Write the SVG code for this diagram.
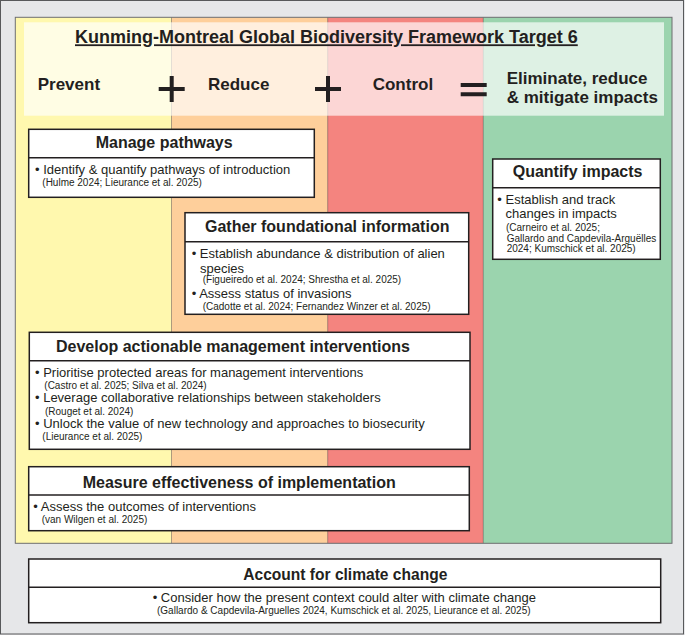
<svg xmlns="http://www.w3.org/2000/svg" width="685" height="635" viewBox="0 0 685 635">
<style>
text{font-family:"Liberation Sans",Arial,Helvetica,sans-serif;fill:#231f20}
.h{font-size:16px;font-weight:bold}
.lab{font-size:17px;font-weight:bold}
.b{font-size:13px}
.c{font-size:10px}
.box{fill:#fff;stroke:#231f20;stroke-width:1.5}
.div{stroke:#231f20;stroke-width:1.5}
.sep{stroke:#000;stroke-opacity:0.3;stroke-width:1}
.op{stroke:#231f20;stroke-width:4;fill:none}
</style>
<rect x="0" y="0" width="685" height="635" fill="#e6e7e9"/>
<rect x="0.5" y="0.5" width="683" height="633.5" fill="none" stroke="#58595b" stroke-width="1"/>
<g id="columns">
<rect x="15.3" y="17.3" width="156.2" height="526" fill="#fff8ae"/>
<rect x="171.5" y="17.3" width="156.2" height="526" fill="#fecf9b"/>
<rect x="327.7" y="17.3" width="155.6" height="526" fill="#f4847f"/>
<rect x="483.3" y="17.3" width="188.7" height="526" fill="#9bd4ae"/>
<line class="sep" x1="171.5" y1="17.3" x2="171.5" y2="543.3"/>
<line class="sep" x1="327.7" y1="17.3" x2="327.7" y2="543.3"/>
<line class="sep" x1="483.3" y1="17.3" x2="483.3" y2="543.3"/>
<rect x="15.3" y="17.3" width="656.7" height="526" fill="none" stroke="#6d6e71" stroke-width="1"/>
<rect x="24" y="22.3" width="640" height="93.4" fill="#fff" fill-opacity="0.67"/>
</g>
<g id="header">
<text x="75" y="43.3" font-size="18" font-weight="bold" text-decoration="underline">Kunming-Montreal Global Biodiversity Framework Target 6</text>
<text class="lab" x="37.7" y="90">Prevent</text>
<text class="lab" x="208" y="90">Reduce</text>
<text class="lab" x="372.7" y="90">Control</text>
<text class="lab" x="506.7" y="84.3">Eliminate, reduce</text>
<text class="lab" x="506.7" y="103.3">&amp; mitigate impacts</text>
<path class="op" d="M158.7 89H184.7M171.7 76V102"/>
<path class="op" d="M315 89H341M328 76V102"/>
<path class="op" d="M460.7 85H486.7M460.7 94.3H486.7" stroke-width="4.5"/>
</g>
<g id="manage-pathways">
<rect class="box" x="28.7" y="129.3" width="285.6" height="68"/>
<line class="div" x1="28.7" y1="157.7" x2="314.3" y2="157.7"/>
<text class="h" x="95.7" y="148.3">Manage pathways</text>
<text class="b" x="35" y="174.3">• Identify &amp; quantify pathways of introduction</text>
<text class="c" x="42.3" y="186">(Hulme 2024; Lieurance et al. 2025)</text>
</g>
<g id="gather-foundational-information">
<rect class="box" x="185" y="212.7" width="283.7" height="101.6"/>
<line class="div" x1="185" y1="241.7" x2="468.7" y2="241.7"/>
<text class="h" x="205" y="231.7">Gather foundational information</text>
<text class="b" x="191.7" y="258.3">• Establish abundance &amp; distribution of alien</text>
<text class="b" x="200" y="272.7">species</text>
<text class="c" x="202.7" y="283.3">(Figueiredo et al. 2024; Shrestha et al. 2025)</text>
<text class="b" x="191.7" y="298.3">• Assess status of invasions</text>
<text class="c" x="202.7" y="310">(Cadotte et al. 2024; Fernandez Winzer et al. 2025)</text>
</g>
<g id="quantify-impacts">
<rect class="box" x="492.7" y="159" width="167.6" height="100.3"/>
<line class="div" x1="492.7" y1="187.7" x2="660.3" y2="187.7"/>
<text class="h" x="512.7" y="177.3">Quantify impacts</text>
<text class="b" x="497.3" y="204">• Establish and track</text>
<text class="b" x="505.5" y="217.7">changes in impacts</text>
<text class="c" x="506" y="230.7">(Carneiro et al. 2025;</text>
<text class="c" x="506.7" y="241.7">Gallardo and Capdevila-Arguëlles</text>
<text class="c" x="506.7" y="252.3">2024; Kumschick et al. 2025)</text>
</g>
<g id="develop-interventions">
<rect class="box" x="29.3" y="332.3" width="440.7" height="117"/>
<line class="div" x1="29.3" y1="360.7" x2="470" y2="360.7"/>
<text class="h" x="56" y="351.7">Develop actionable management interventions</text>
<text class="b" x="35" y="377.3">• Prioritise protected areas for management interventions</text>
<text class="c" x="44.3" y="389">(Castro et al. 2025; Silva et al. 2024)</text>
<text class="b" x="35" y="402.3">• Leverage collaborative relationships between stakeholders</text>
<text class="c" x="45" y="415">(Rouget et al. 2024)</text>
<text class="b" x="35" y="428.3">• Unlock the value of new technology and approaches to biosecurity</text>
<text class="c" x="42.3" y="440">(Lieurance et al. 2025)</text>
</g>
<g id="measure-effectiveness">
<rect class="box" x="28.7" y="466.7" width="440.6" height="64"/>
<line class="div" x1="28.7" y1="495" x2="469.3" y2="495"/>
<text class="h" x="82.7" y="488.3">Measure effectiveness of implementation</text>
<text class="b" x="33.3" y="511">• Assess the outcomes of interventions</text>
<text class="c" x="41.7" y="523.3">(van Wilgen et al. 2025)</text>
</g>
<g id="account-climate-change">
<rect class="box" x="28.7" y="559" width="632" height="63.7"/>
<line class="div" x1="28.7" y1="587.3" x2="660.7" y2="587.3"/>
<text class="h" x="243.3" y="580" textLength="204" lengthAdjust="spacingAndGlyphs">Account for climate change</text>
<text class="b" x="152.7" y="602.3">• Consider how the present context could alter with climate change</text>
<text class="c" x="157" y="614.3">(Gallardo &amp; Capdevila-Arguelles 2024, Kumschick et al. 2025, Lieurance et al. 2025)</text>
</g>
<g id="connectors"></g>
</svg>
